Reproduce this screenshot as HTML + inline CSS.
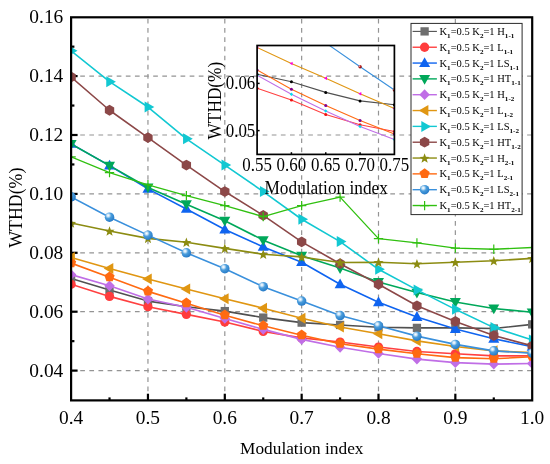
<!DOCTYPE html>
<html><head><meta charset="utf-8"><title>WTHD vs Modulation index</title>
<style>
html,body{margin:0;padding:0;background:#fff}
svg{display:block}
text{font-family:"Liberation Serif","DejaVu Serif",serif;fill:#000}
</style></head><body>
<svg width="550" height="464" viewBox="0 0 550 464">
<defs>
<radialGradient id="sph" cx="0.36" cy="0.32" r="0.72"><stop offset="0" stop-color="#ffffff"/><stop offset="0.18" stop-color="#cfe6f8"/><stop offset="0.45" stop-color="#4a9ddc"/><stop offset="1" stop-color="#2478c6"/></radialGradient>
<radialGradient id="sphr" cx="0.36" cy="0.30" r="0.75"><stop offset="0" stop-color="#ffd0d0"/><stop offset="0.4" stop-color="#c02020"/><stop offset="1" stop-color="#700000"/></radialGradient>
<clipPath id="cm"><rect x="71.10" y="17.30" width="461.10" height="383.10"/></clipPath>
<clipPath id="ci"><rect x="257.1" y="45.5" width="137" height="108.9"/></clipPath>
</defs>
<rect width="550" height="464" fill="#fff"/>
<g stroke="#949494" stroke-width="1.2" fill="none">
<path stroke-dasharray="4.7 4.42" d="M71.10 370.60H532.20"/>
<path stroke-dasharray="4.7 4.42" d="M71.10 311.70H532.20"/>
<path stroke-dasharray="4.7 4.42" d="M71.10 252.80H532.20"/>
<path stroke-dasharray="4.7 4.42" d="M71.10 193.90H532.20"/>
<path stroke-dasharray="4.7 4.42" d="M71.10 135.00H532.20"/>
<path stroke-dasharray="4.7 4.42" d="M71.10 76.10H532.20"/>
<path stroke-dasharray="4.7 4.49" d="M147.95 400.40V17.30"/>
<path stroke-dasharray="4.7 4.49" d="M224.80 400.40V17.30"/>
<path stroke-dasharray="4.7 4.49" d="M301.65 400.40V17.30"/>
<path stroke-dasharray="4.7 4.49" d="M378.50 400.40V17.30"/>
<path stroke-dasharray="4.7 4.49" d="M455.35 400.40V17.30"/>
</g>
<g stroke="#000" stroke-width="2.2">
<path d="M71.10 370.60h6.50"/>
<path d="M71.10 341.15h3.30"/>
<path d="M71.10 311.70h6.50"/>
<path d="M71.10 282.25h3.30"/>
<path d="M71.10 252.80h6.50"/>
<path d="M71.10 223.35h3.30"/>
<path d="M71.10 193.90h6.50"/>
<path d="M71.10 164.45h3.30"/>
<path d="M71.10 135.00h6.50"/>
<path d="M71.10 105.55h3.30"/>
<path d="M71.10 76.10h6.50"/>
<path d="M71.10 46.65h3.30"/>
<path d="M109.52 400.40v-3.00"/>
<path d="M147.95 400.40v-6.70"/>
<path d="M186.38 400.40v-3.00"/>
<path d="M224.80 400.40v-6.70"/>
<path d="M263.23 400.40v-3.00"/>
<path d="M301.65 400.40v-6.70"/>
<path d="M340.08 400.40v-3.00"/>
<path d="M378.50 400.40v-6.70"/>
<path d="M416.93 400.40v-3.00"/>
<path d="M455.35 400.40v-6.70"/>
<path d="M493.78 400.40v-3.00"/>
</g>
<g clip-path="url(#cm)">
<polyline points="71.10,278.42 109.52,289.91 147.95,301.10 186.38,306.69 224.80,311.11 263.23,317.59 301.65,322.60 340.08,324.95 378.50,327.31 416.93,327.90 455.35,327.90 493.78,328.49 532.20,324.36" fill="none" stroke="#505050" stroke-width="1.6" stroke-linejoin="round"/>
<rect x="66.95" y="274.27" width="8.30" height="8.30" fill="#6e6e6e"/>
<rect x="105.37" y="285.76" width="8.30" height="8.30" fill="#6e6e6e"/>
<rect x="143.80" y="296.95" width="8.30" height="8.30" fill="#6e6e6e"/>
<rect x="182.23" y="302.54" width="8.30" height="8.30" fill="#6e6e6e"/>
<rect x="220.65" y="306.96" width="8.30" height="8.30" fill="#6e6e6e"/>
<rect x="259.08" y="313.44" width="8.30" height="8.30" fill="#6e6e6e"/>
<rect x="297.50" y="318.45" width="8.30" height="8.30" fill="#6e6e6e"/>
<rect x="335.93" y="320.80" width="8.30" height="8.30" fill="#6e6e6e"/>
<rect x="374.35" y="323.16" width="8.30" height="8.30" fill="#6e6e6e"/>
<rect x="412.78" y="323.75" width="8.30" height="8.30" fill="#6e6e6e"/>
<rect x="451.20" y="323.75" width="8.30" height="8.30" fill="#6e6e6e"/>
<rect x="489.63" y="324.34" width="8.30" height="8.30" fill="#6e6e6e"/>
<rect x="528.05" y="320.21" width="8.30" height="8.30" fill="#6e6e6e"/>
<polyline points="71.10,284.31 109.52,296.39 147.95,306.69 186.38,314.35 224.80,322.01 263.23,331.43 301.65,337.91 340.08,342.03 378.50,347.04 416.93,351.46 455.35,353.81 493.78,355.88 532.20,355.88" fill="none" stroke="#ff4040" stroke-width="1.6" stroke-linejoin="round"/>
<circle cx="71.10" cy="284.31" r="4.65" fill="#ff3c3c"/>
<circle cx="109.52" cy="296.39" r="4.65" fill="#ff3c3c"/>
<circle cx="147.95" cy="306.69" r="4.65" fill="#ff3c3c"/>
<circle cx="186.38" cy="314.35" r="4.65" fill="#ff3c3c"/>
<circle cx="224.80" cy="322.01" r="4.65" fill="#ff3c3c"/>
<circle cx="263.23" cy="331.43" r="4.65" fill="#ff3c3c"/>
<circle cx="301.65" cy="337.91" r="4.65" fill="#ff3c3c"/>
<circle cx="340.08" cy="342.03" r="4.65" fill="#ff3c3c"/>
<circle cx="378.50" cy="347.04" r="4.65" fill="#ff3c3c"/>
<circle cx="416.93" cy="351.46" r="4.65" fill="#ff3c3c"/>
<circle cx="455.35" cy="353.81" r="4.65" fill="#ff3c3c"/>
<circle cx="493.78" cy="355.88" r="4.65" fill="#ff3c3c"/>
<circle cx="532.20" cy="355.88" r="4.65" fill="#ff3c3c"/>
<polyline points="71.10,143.83 109.52,165.63 147.95,188.89 186.38,208.92 224.80,229.53 263.23,246.91 301.65,262.22 340.08,284.31 378.50,302.28 416.93,317.00 455.35,329.08 493.78,338.79 532.20,346.75" fill="none" stroke="#0f64f0" stroke-width="1.6" stroke-linejoin="round"/>
<polygon points="71.10,137.93 76.60,147.73 65.60,147.73" fill="#0f64f0"/>
<polygon points="109.52,159.73 115.02,169.53 104.02,169.53" fill="#0f64f0"/>
<polygon points="147.95,182.99 153.45,192.79 142.45,192.79" fill="#0f64f0"/>
<polygon points="186.38,203.02 191.88,212.82 180.88,212.82" fill="#0f64f0"/>
<polygon points="224.80,223.63 230.30,233.43 219.30,233.43" fill="#0f64f0"/>
<polygon points="263.23,241.01 268.73,250.81 257.73,250.81" fill="#0f64f0"/>
<polygon points="301.65,256.32 307.15,266.12 296.15,266.12" fill="#0f64f0"/>
<polygon points="340.08,278.41 345.58,288.21 334.58,288.21" fill="#0f64f0"/>
<polygon points="378.50,296.38 384.00,306.18 373.00,306.18" fill="#0f64f0"/>
<polygon points="416.93,311.10 422.43,320.90 411.43,320.90" fill="#0f64f0"/>
<polygon points="455.35,323.18 460.85,332.98 449.85,332.98" fill="#0f64f0"/>
<polygon points="493.78,332.89 499.28,342.69 488.28,342.69" fill="#0f64f0"/>
<polygon points="532.20,340.85 537.70,350.65 526.70,350.65" fill="#0f64f0"/>
<polyline points="71.10,143.83 109.52,165.63 147.95,187.42 186.38,204.21 224.80,220.70 263.23,240.14 301.65,255.75 340.08,268.11 378.50,281.96 416.93,292.56 455.35,301.98 493.78,308.46 532.20,312.29" fill="none" stroke="#00a85a" stroke-width="1.6" stroke-linejoin="round"/>
<polygon points="71.10,149.73 76.60,139.93 65.60,139.93" fill="#00a85a"/>
<polygon points="109.52,171.53 115.02,161.73 104.02,161.73" fill="#00a85a"/>
<polygon points="147.95,193.32 153.45,183.52 142.45,183.52" fill="#00a85a"/>
<polygon points="186.38,210.11 191.88,200.31 180.88,200.31" fill="#00a85a"/>
<polygon points="224.80,226.60 230.30,216.80 219.30,216.80" fill="#00a85a"/>
<polygon points="263.23,246.04 268.73,236.24 257.73,236.24" fill="#00a85a"/>
<polygon points="301.65,261.64 307.15,251.84 296.15,251.84" fill="#00a85a"/>
<polygon points="340.08,274.01 345.58,264.21 334.58,264.21" fill="#00a85a"/>
<polygon points="378.50,287.86 384.00,278.06 373.00,278.06" fill="#00a85a"/>
<polygon points="416.93,298.46 422.43,288.66 411.43,288.66" fill="#00a85a"/>
<polygon points="455.35,307.88 460.85,298.08 449.85,298.08" fill="#00a85a"/>
<polygon points="493.78,314.36 499.28,304.56 488.28,304.56" fill="#00a85a"/>
<polygon points="532.20,318.19 537.70,308.39 526.70,308.39" fill="#00a85a"/>
<polyline points="71.10,274.59 109.52,285.78 147.95,299.04 186.38,307.28 224.80,318.47 263.23,329.37 301.65,339.38 340.08,347.33 378.50,353.52 416.93,359.11 455.35,362.65 493.78,364.12 532.20,363.53" fill="none" stroke="#c06ee6" stroke-width="1.6" stroke-linejoin="round"/>
<polygon points="71.10,269.24 76.34,274.59 71.10,279.94 65.86,274.59" fill="#c06ee6"/>
<polygon points="109.52,280.43 114.77,285.78 109.52,291.13 104.28,285.78" fill="#c06ee6"/>
<polygon points="147.95,293.69 153.19,299.04 147.95,304.39 142.71,299.04" fill="#c06ee6"/>
<polygon points="186.38,301.93 191.62,307.28 186.38,312.63 181.13,307.28" fill="#c06ee6"/>
<polygon points="224.80,313.12 230.04,318.47 224.80,323.82 219.56,318.47" fill="#c06ee6"/>
<polygon points="263.23,324.02 268.47,329.37 263.23,334.72 257.98,329.37" fill="#c06ee6"/>
<polygon points="301.65,334.03 306.89,339.38 301.65,344.73 296.41,339.38" fill="#c06ee6"/>
<polygon points="340.08,341.98 345.32,347.33 340.08,352.68 334.83,347.33" fill="#c06ee6"/>
<polygon points="378.50,348.17 383.74,353.52 378.50,358.87 373.26,353.52" fill="#c06ee6"/>
<polygon points="416.93,353.76 422.17,359.11 416.93,364.46 411.68,359.11" fill="#c06ee6"/>
<polygon points="455.35,357.30 460.59,362.65 455.35,368.00 450.11,362.65" fill="#c06ee6"/>
<polygon points="493.78,358.77 499.02,364.12 493.78,369.47 488.53,364.12" fill="#c06ee6"/>
<polygon points="532.20,358.18 537.44,363.53 532.20,368.88 526.96,363.53" fill="#c06ee6"/>
<polyline points="71.10,257.51 109.52,268.41 147.95,279.01 186.38,289.02 224.80,298.74 263.23,308.17 301.65,318.18 340.08,327.01 378.50,333.79 416.93,340.86 455.35,346.45 493.78,350.87 532.20,352.64" fill="none" stroke="#e09612" stroke-width="1.6" stroke-linejoin="round"/>
<polygon points="65.30,257.51 74.90,252.01 74.90,263.01" fill="#e09612"/>
<polygon points="103.72,268.41 113.32,262.91 113.32,273.91" fill="#e09612"/>
<polygon points="142.15,279.01 151.75,273.51 151.75,284.51" fill="#e09612"/>
<polygon points="180.58,289.02 190.18,283.52 190.18,294.52" fill="#e09612"/>
<polygon points="219.00,298.74 228.60,293.24 228.60,304.24" fill="#e09612"/>
<polygon points="257.43,308.17 267.03,302.67 267.03,313.67" fill="#e09612"/>
<polygon points="295.85,318.18 305.45,312.68 305.45,323.68" fill="#e09612"/>
<polygon points="334.28,327.01 343.88,321.51 343.88,332.51" fill="#e09612"/>
<polygon points="372.70,333.79 382.30,328.29 382.30,339.29" fill="#e09612"/>
<polygon points="411.13,340.86 420.73,335.36 420.73,346.36" fill="#e09612"/>
<polygon points="449.55,346.45 459.15,340.95 459.15,351.95" fill="#e09612"/>
<polygon points="487.98,350.87 497.58,345.37 497.58,356.37" fill="#e09612"/>
<polygon points="526.40,352.64 536.00,347.14 536.00,358.14" fill="#e09612"/>
<polyline points="71.10,50.77 109.52,81.70 147.95,107.02 186.38,138.83 224.80,165.04 263.23,191.54 301.65,219.23 340.08,241.61 378.50,269.29 416.93,289.91 455.35,309.34 493.78,327.60 532.20,339.97" fill="none" stroke="#12c8d2" stroke-width="1.6" stroke-linejoin="round"/>
<polygon points="77.50,50.77 67.80,45.27 67.80,56.27" fill="#12c8d2"/>
<polygon points="115.92,81.70 106.22,76.20 106.22,87.20" fill="#12c8d2"/>
<polygon points="154.35,107.02 144.65,101.52 144.65,112.52" fill="#12c8d2"/>
<polygon points="192.78,138.83 183.08,133.33 183.08,144.33" fill="#12c8d2"/>
<polygon points="231.20,165.04 221.50,159.54 221.50,170.54" fill="#12c8d2"/>
<polygon points="269.62,191.54 259.93,186.04 259.93,197.04" fill="#12c8d2"/>
<polygon points="308.05,219.23 298.35,213.73 298.35,224.73" fill="#12c8d2"/>
<polygon points="346.48,241.61 336.78,236.11 336.78,247.11" fill="#12c8d2"/>
<polygon points="384.90,269.29 375.20,263.79 375.20,274.79" fill="#12c8d2"/>
<polygon points="423.33,289.91 413.63,284.41 413.63,295.41" fill="#12c8d2"/>
<polygon points="461.75,309.34 452.05,303.84 452.05,314.84" fill="#12c8d2"/>
<polygon points="500.18,327.60 490.48,322.10 490.48,333.10" fill="#12c8d2"/>
<polygon points="538.60,339.97 528.90,334.47 528.90,345.47" fill="#12c8d2"/>
<polyline points="71.10,76.98 109.52,110.26 147.95,137.65 186.38,165.04 224.80,191.54 263.23,215.40 301.65,241.90 340.08,263.70 378.50,284.31 416.93,305.81 455.35,321.42 493.78,335.55 532.20,345.86" fill="none" stroke="#8c4848" stroke-width="1.6" stroke-linejoin="round"/>
<polygon points="71.10,71.58 75.78,74.28 75.78,79.68 71.10,82.38 66.42,79.68 66.42,74.28" fill="#8c4848"/>
<polygon points="109.52,104.86 114.20,107.56 114.20,112.96 109.52,115.66 104.85,112.96 104.85,107.56" fill="#8c4848"/>
<polygon points="147.95,132.25 152.63,134.95 152.63,140.35 147.95,143.05 143.27,140.35 143.27,134.95" fill="#8c4848"/>
<polygon points="186.38,159.64 191.05,162.34 191.05,167.74 186.38,170.44 181.70,167.74 181.70,162.34" fill="#8c4848"/>
<polygon points="224.80,186.14 229.48,188.84 229.48,194.24 224.80,196.94 220.12,194.24 220.12,188.84" fill="#8c4848"/>
<polygon points="263.23,210.00 267.90,212.70 267.90,218.10 263.23,220.80 258.55,218.10 258.55,212.70" fill="#8c4848"/>
<polygon points="301.65,236.50 306.33,239.20 306.33,244.60 301.65,247.30 296.97,244.60 296.97,239.20" fill="#8c4848"/>
<polygon points="340.08,258.30 344.75,261.00 344.75,266.40 340.08,269.10 335.40,266.40 335.40,261.00" fill="#8c4848"/>
<polygon points="378.50,278.91 383.18,281.61 383.18,287.01 378.50,289.71 373.82,287.01 373.82,281.61" fill="#8c4848"/>
<polygon points="416.93,300.41 421.60,303.11 421.60,308.51 416.93,311.21 412.25,308.51 412.25,303.11" fill="#8c4848"/>
<polygon points="455.35,316.02 460.03,318.72 460.03,324.12 455.35,326.82 450.67,324.12 450.67,318.72" fill="#8c4848"/>
<polygon points="493.78,330.15 498.45,332.85 498.45,338.25 493.78,340.95 489.10,338.25 489.10,332.85" fill="#8c4848"/>
<polygon points="532.20,340.46 536.88,343.16 536.88,348.56 532.20,351.26 527.52,348.56 527.52,343.16" fill="#8c4848"/>
<polyline points="71.10,223.06 109.52,231.01 147.95,238.37 186.38,242.20 224.80,248.38 263.23,254.27 301.65,256.92 340.08,262.52 378.50,262.22 416.93,263.70 455.35,262.22 493.78,260.75 532.20,258.40" fill="none" stroke="#8c8c12" stroke-width="1.6" stroke-linejoin="round"/>
<polygon points="71.10,218.26 72.41,221.75 76.14,221.92 73.22,224.24 74.22,227.84 71.10,225.78 67.98,227.84 68.98,224.24 66.06,221.92 69.79,221.75" fill="#8c8c12"/>
<polygon points="109.52,226.21 110.83,229.71 114.57,229.87 111.64,232.19 112.64,235.79 109.52,233.73 106.41,235.79 107.41,232.19 104.48,229.87 108.22,229.71" fill="#8c8c12"/>
<polygon points="147.95,233.57 149.26,237.07 152.99,237.23 150.07,239.56 151.07,243.16 147.95,241.10 144.83,243.16 145.83,239.56 142.91,237.23 146.64,237.07" fill="#8c8c12"/>
<polygon points="186.38,237.40 187.68,240.90 191.42,241.06 188.49,243.39 189.49,246.99 186.38,244.92 183.26,246.99 184.26,243.39 181.33,241.06 185.07,240.90" fill="#8c8c12"/>
<polygon points="224.80,243.58 226.11,247.08 229.84,247.24 226.92,249.57 227.92,253.17 224.80,251.11 221.68,253.17 222.68,249.57 219.76,247.24 223.49,247.08" fill="#8c8c12"/>
<polygon points="263.23,249.47 264.53,252.97 268.27,253.13 265.34,255.46 266.34,259.06 263.23,257.00 260.11,259.06 261.11,255.46 258.18,253.13 261.92,252.97" fill="#8c8c12"/>
<polygon points="301.65,252.12 302.96,255.62 306.69,255.79 303.77,258.11 304.77,261.71 301.65,259.65 298.53,261.71 299.53,258.11 296.61,255.79 300.34,255.62" fill="#8c8c12"/>
<polygon points="340.08,257.72 341.38,261.22 345.12,261.38 342.19,263.71 343.19,267.31 340.08,265.24 336.96,267.31 337.96,263.71 335.03,261.38 338.77,261.22" fill="#8c8c12"/>
<polygon points="378.50,257.42 379.81,260.92 383.54,261.09 380.62,263.41 381.62,267.01 378.50,264.95 375.38,267.01 376.38,263.41 373.46,261.09 377.19,260.92" fill="#8c8c12"/>
<polygon points="416.93,258.90 418.23,262.40 421.97,262.56 419.04,264.88 420.04,268.48 416.93,266.42 413.81,268.48 414.81,264.88 411.88,262.56 415.62,262.40" fill="#8c8c12"/>
<polygon points="455.35,257.42 456.66,260.92 460.39,261.09 457.47,263.41 458.47,267.01 455.35,264.95 452.23,267.01 453.23,263.41 450.31,261.09 454.04,260.92" fill="#8c8c12"/>
<polygon points="493.78,255.95 495.08,259.45 498.82,259.61 495.89,261.94 496.89,265.54 493.78,263.48 490.66,265.54 491.66,261.94 488.73,259.61 492.47,259.45" fill="#8c8c12"/>
<polygon points="532.20,253.60 533.51,257.09 537.24,257.26 534.32,259.58 535.32,263.18 532.20,261.12 529.08,263.18 530.08,259.58 527.16,257.26 530.89,257.09" fill="#8c8c12"/>
<polyline points="71.10,263.11 109.52,277.24 147.95,291.38 186.38,303.16 224.80,315.23 263.23,325.84 301.65,335.26 340.08,343.80 378.50,349.10 416.93,353.81 455.35,357.64 493.78,358.82 532.20,356.76" fill="none" stroke="#ff6a12" stroke-width="1.6" stroke-linejoin="round"/>
<polygon points="71.10,257.46 76.19,261.15 74.24,267.14 67.96,267.14 66.01,261.15" fill="#ff6a12"/>
<polygon points="109.52,271.59 114.61,275.29 112.67,281.27 106.38,281.27 104.44,275.29" fill="#ff6a12"/>
<polygon points="147.95,285.73 153.04,289.43 151.09,295.41 144.81,295.41 142.86,289.43" fill="#ff6a12"/>
<polygon points="186.38,297.51 191.46,301.21 189.52,307.19 183.23,307.19 181.29,301.21" fill="#ff6a12"/>
<polygon points="224.80,309.58 229.89,313.28 227.94,319.26 221.66,319.26 219.71,313.28" fill="#ff6a12"/>
<polygon points="263.23,320.19 268.31,323.88 266.37,329.86 260.08,329.86 258.14,323.88" fill="#ff6a12"/>
<polygon points="301.65,329.61 306.74,333.31 304.79,339.29 298.51,339.29 296.56,333.31" fill="#ff6a12"/>
<polygon points="340.08,338.15 345.16,341.85 343.22,347.83 336.93,347.83 334.99,341.85" fill="#ff6a12"/>
<polygon points="378.50,343.45 383.59,347.15 381.64,353.13 375.36,353.13 373.41,347.15" fill="#ff6a12"/>
<polygon points="416.93,348.16 422.01,351.86 420.07,357.84 413.78,357.84 411.84,351.86" fill="#ff6a12"/>
<polygon points="455.35,351.99 460.44,355.69 458.49,361.67 452.21,361.67 450.26,355.69" fill="#ff6a12"/>
<polygon points="493.78,353.17 498.86,356.87 496.92,362.85 490.63,362.85 488.69,356.87" fill="#ff6a12"/>
<polygon points="532.20,351.11 537.29,354.81 535.34,360.79 529.06,360.79 527.11,354.81" fill="#ff6a12"/>
<polyline points="71.10,196.84 109.52,217.17 147.95,235.13 186.38,252.80 224.80,268.70 263.23,286.67 301.65,301.10 340.08,315.53 378.50,325.84 416.93,336.14 455.35,344.39 493.78,350.87 532.20,353.22" fill="none" stroke="#3a90dc" stroke-width="1.6" stroke-linejoin="round"/>
<circle cx="71.10" cy="196.84" r="4.75" fill="url(#sph)"/>
<circle cx="109.52" cy="217.17" r="4.75" fill="url(#sph)"/>
<circle cx="147.95" cy="235.13" r="4.75" fill="url(#sph)"/>
<circle cx="186.38" cy="252.80" r="4.75" fill="url(#sph)"/>
<circle cx="224.80" cy="268.70" r="4.75" fill="url(#sph)"/>
<circle cx="263.23" cy="286.67" r="4.75" fill="url(#sph)"/>
<circle cx="301.65" cy="301.10" r="4.75" fill="url(#sph)"/>
<circle cx="340.08" cy="315.53" r="4.75" fill="url(#sph)"/>
<circle cx="378.50" cy="325.84" r="4.75" fill="url(#sph)"/>
<circle cx="416.93" cy="336.14" r="4.75" fill="url(#sph)"/>
<circle cx="455.35" cy="344.39" r="4.75" fill="url(#sph)"/>
<circle cx="493.78" cy="350.87" r="4.75" fill="url(#sph)"/>
<circle cx="532.20" cy="353.22" r="4.75" fill="url(#sph)"/>
<polyline points="71.10,156.79 109.52,172.70 147.95,184.77 186.38,195.67 224.80,205.68 263.23,216.58 301.65,205.68 340.08,197.14 378.50,238.66 416.93,242.79 455.35,248.09 493.78,249.27 532.20,247.50" fill="none" stroke="#30c010" stroke-width="1.3" stroke-linejoin="round"/>
<path d="M71.10 152.14V161.44M66.45 156.79H75.75" stroke="#30c010" stroke-width="1.2" fill="none"/>
<path d="M109.52 168.05V177.35M104.87 172.70H114.17" stroke="#30c010" stroke-width="1.2" fill="none"/>
<path d="M147.95 180.12V189.42M143.30 184.77H152.60" stroke="#30c010" stroke-width="1.2" fill="none"/>
<path d="M186.38 191.02V200.32M181.73 195.67H191.03" stroke="#30c010" stroke-width="1.2" fill="none"/>
<path d="M224.80 201.03V210.33M220.15 205.68H229.45" stroke="#30c010" stroke-width="1.2" fill="none"/>
<path d="M263.23 211.93V221.23M258.58 216.58H267.88" stroke="#30c010" stroke-width="1.2" fill="none"/>
<path d="M301.65 201.03V210.33M297.00 205.68H306.30" stroke="#30c010" stroke-width="1.2" fill="none"/>
<path d="M340.08 192.49V201.79M335.43 197.14H344.73" stroke="#30c010" stroke-width="1.2" fill="none"/>
<path d="M378.50 234.01V243.31M373.85 238.66H383.15" stroke="#30c010" stroke-width="1.2" fill="none"/>
<path d="M416.93 238.14V247.44M412.28 242.79H421.58" stroke="#30c010" stroke-width="1.2" fill="none"/>
<path d="M455.35 243.44V252.74M450.70 248.09H460.00" stroke="#30c010" stroke-width="1.2" fill="none"/>
<path d="M493.78 244.62V253.92M489.13 249.27H498.43" stroke="#30c010" stroke-width="1.2" fill="none"/>
<path d="M532.20 242.85V252.15M527.55 247.50H536.85" stroke="#30c010" stroke-width="1.2" fill="none"/>
</g>
<rect x="71.10" y="17.30" width="461.10" height="383.10" fill="none" stroke="#000" stroke-width="2.2"/>
<g font-size="19.4" text-anchor="end">
<text x="63.3" y="376.80">0.04</text>
<text x="63.3" y="317.90">0.06</text>
<text x="63.3" y="259.00">0.08</text>
<text x="63.3" y="200.10">0.10</text>
<text x="63.3" y="141.20">0.12</text>
<text x="63.3" y="82.30">0.14</text>
<text x="63.3" y="23.40">0.16</text>
</g>
<g font-size="19.4" text-anchor="middle">
<text x="71.10" y="424">0.4</text>
<text x="147.95" y="424">0.5</text>
<text x="224.80" y="424">0.6</text>
<text x="301.65" y="424">0.7</text>
<text x="378.50" y="424">0.8</text>
<text x="455.35" y="424">0.9</text>
<text x="532.20" y="424">1.0</text>
</g>
<text x="301.8" y="453.7" font-size="17.3" text-anchor="middle">Modulation index</text>
<text transform="translate(22.2 207.7) rotate(-90)" font-size="17.8" text-anchor="middle">WTHD(%)</text>
<g clip-path="url(#ci)">
<polyline points="257.10,74.30 291.42,81.80 325.75,92.40 360.07,100.90 394.40,104.70" fill="none" stroke="#505050" stroke-width="1.1"/>
<circle cx="257.10" cy="74.30" r="1.5" fill="#000"/>
<circle cx="291.42" cy="81.80" r="1.5" fill="#000"/>
<circle cx="325.75" cy="92.40" r="1.5" fill="#000"/>
<circle cx="360.07" cy="100.90" r="1.5" fill="#000"/>
<circle cx="394.40" cy="104.70" r="1.5" fill="#000"/>
<polyline points="257.10,88.20 291.42,100.00 325.75,114.50 360.07,124.80 394.40,131.50" fill="none" stroke="#ff4040" stroke-width="1.1"/>
<circle cx="257.10" cy="88.20" r="1.5" fill="#f01010"/>
<circle cx="291.42" cy="100.00" r="1.5" fill="#f01010"/>
<circle cx="325.75" cy="114.50" r="1.5" fill="#f01010"/>
<circle cx="360.07" cy="124.80" r="1.5" fill="#f01010"/>
<circle cx="394.40" cy="131.50" r="1.5" fill="#f01010"/>
<polyline points="257.10,75.20 291.42,94.20 325.75,111.00 360.07,126.50 394.40,139.60" fill="none" stroke="#c06ee6" stroke-width="1.1"/>
<polygon points="257.10,73.49 258.78,75.20 257.10,76.91 255.42,75.20" fill="#00e0f0"/>
<polygon points="291.42,92.49 293.10,94.20 291.42,95.91 289.75,94.20" fill="#00e0f0"/>
<polygon points="325.75,109.29 327.43,111.00 325.75,112.71 324.07,111.00" fill="#00e0f0"/>
<polygon points="360.07,124.79 361.75,126.50 360.07,128.21 358.40,126.50" fill="#00e0f0"/>
<polygon points="394.40,137.89 396.08,139.60 394.40,141.31 392.72,139.60" fill="#00e0f0"/>
<polyline points="257.10,47.40 291.42,63.60 325.75,78.30 360.07,93.80 394.40,108.40" fill="none" stroke="#e09612" stroke-width="1.1"/>
<polygon points="255.24,47.40 258.32,45.64 258.32,49.16" fill="#ff00e0"/>
<polygon points="289.57,63.60 292.64,61.84 292.64,65.36" fill="#ff00e0"/>
<polygon points="323.89,78.30 326.97,76.54 326.97,80.06" fill="#ff00e0"/>
<polygon points="358.22,93.80 361.29,92.04 361.29,95.56" fill="#ff00e0"/>
<polygon points="392.54,108.40 395.62,106.64 395.62,110.16" fill="#ff00e0"/>
<polyline points="257.10,70.00 291.42,89.30 325.75,105.50 360.07,120.50 394.40,134.00" fill="none" stroke="#ff6a12" stroke-width="1.1"/>
<circle cx="257.10" cy="70.00" r="1.5" fill="#800090"/>
<circle cx="291.42" cy="89.30" r="1.5" fill="#800090"/>
<circle cx="325.75" cy="105.50" r="1.5" fill="#800090"/>
<circle cx="360.07" cy="120.50" r="1.5" fill="#800090"/>
<circle cx="394.40" cy="134.00" r="1.5" fill="#800090"/>
<polyline points="257.10,20.00 291.42,31.50 325.75,42.90 360.07,66.80 394.40,90.00" fill="none" stroke="#3a90dc" stroke-width="1.1"/>
<circle cx="257.10" cy="20.00" r="1.7" fill="url(#sphr)"/>
<circle cx="291.42" cy="31.50" r="1.7" fill="url(#sphr)"/>
<circle cx="325.75" cy="42.90" r="1.7" fill="url(#sphr)"/>
<circle cx="360.07" cy="66.80" r="1.7" fill="url(#sphr)"/>
<circle cx="394.40" cy="90.00" r="1.7" fill="url(#sphr)"/>
</g>
<rect x="257.10" y="45.50" width="137.30" height="108.90" fill="none" stroke="#000" stroke-width="1.7"/>
<g stroke="#000" stroke-width="1.5">
<path d="M257.10 130.60h2.5"/>
<path d="M257.10 83.40h2.5"/>
<path d="M291.42 154.40v-2.2"/>
<path d="M325.75 154.40v-2.2"/>
<path d="M360.07 154.40v-2.2"/>
</g>
<g font-size="18.8" text-anchor="end">
<text transform="translate(255.3 136.50) scale(0.9 1)">0.05</text>
<text transform="translate(255.3 89.30) scale(0.9 1)">0.06</text>
</g>
<g font-size="18.8" text-anchor="middle">
<text transform="translate(257.10 170.6) scale(0.9 1)">0.55</text>
<text transform="translate(291.42 170.6) scale(0.9 1)">0.60</text>
<text transform="translate(325.75 170.6) scale(0.9 1)">0.65</text>
<text transform="translate(360.07 170.6) scale(0.9 1)">0.70</text>
<text transform="translate(394.40 170.6) scale(0.9 1)">0.75</text>
</g>
<text transform="translate(326.2 194.1) scale(0.925 1)" font-size="18.7" text-anchor="middle">Modulation index</text>
<text transform="translate(221.2 100.6) rotate(-90) scale(0.91 1)" font-size="19" text-anchor="middle">WTHD(%)</text>
<rect x="411.00" y="23.40" width="111.10" height="191.20" fill="#fff" stroke="#2a2a2a" stroke-width="1"/>
<path d="M412.6 31.40H436.9" stroke="#505050" stroke-width="1.1"/>
<rect x="420.45" y="27.25" width="8.30" height="8.30" fill="#6e6e6e"/>
<text x="439.5" y="35.00" font-size="10.5" fill="#222">K<tspan font-size="7.1" font-weight="700" dy="2.9">1</tspan><tspan dy="-2.9">=0.5 K</tspan><tspan font-size="7.1" font-weight="700" dy="2.9">2</tspan><tspan dy="-2.9">=1 H</tspan><tspan font-size="7.1" font-weight="700" dy="2.9">1-1</tspan></text>
<path d="M412.6 47.23H436.9" stroke="#ff4040" stroke-width="1.4"/>
<circle cx="424.60" cy="47.23" r="4.65" fill="#ff3c3c"/>
<text x="439.5" y="50.83" font-size="10.5" fill="#222">K<tspan font-size="7.1" font-weight="700" dy="2.9">1</tspan><tspan dy="-2.9">=0.5 K</tspan><tspan font-size="7.1" font-weight="700" dy="2.9">2</tspan><tspan dy="-2.9">=1 L</tspan><tspan font-size="7.1" font-weight="700" dy="2.9">1-1</tspan></text>
<path d="M412.6 63.06H436.9" stroke="#0f64f0" stroke-width="1.4"/>
<polygon points="424.60,57.16 430.10,66.96 419.10,66.96" fill="#0f64f0"/>
<text x="439.5" y="66.66" font-size="10.5" fill="#222">K<tspan font-size="7.1" font-weight="700" dy="2.9">1</tspan><tspan dy="-2.9">=0.5 K</tspan><tspan font-size="7.1" font-weight="700" dy="2.9">2</tspan><tspan dy="-2.9">=1 LS</tspan><tspan font-size="7.1" font-weight="700" dy="2.9">1-1</tspan></text>
<path d="M412.6 78.89H436.9" stroke="#00a85a" stroke-width="1.4"/>
<polygon points="424.60,84.79 430.10,74.99 419.10,74.99" fill="#00a85a"/>
<text x="439.5" y="82.49" font-size="10.5" fill="#222">K<tspan font-size="7.1" font-weight="700" dy="2.9">1</tspan><tspan dy="-2.9">=0.5 K</tspan><tspan font-size="7.1" font-weight="700" dy="2.9">2</tspan><tspan dy="-2.9">=1 HT</tspan><tspan font-size="7.1" font-weight="700" dy="2.9">1-1</tspan></text>
<path d="M412.6 94.72H436.9" stroke="#c06ee6" stroke-width="1.4"/>
<polygon points="424.60,89.37 429.84,94.72 424.60,100.07 419.36,94.72" fill="#c06ee6"/>
<text x="439.5" y="98.32" font-size="10.5" fill="#222">K<tspan font-size="7.1" font-weight="700" dy="2.9">1</tspan><tspan dy="-2.9">=0.5 K</tspan><tspan font-size="7.1" font-weight="700" dy="2.9">2</tspan><tspan dy="-2.9">=1 H</tspan><tspan font-size="7.1" font-weight="700" dy="2.9">1-2</tspan></text>
<path d="M412.6 110.55H436.9" stroke="#e09612" stroke-width="1.4"/>
<polygon points="418.80,110.55 428.40,105.05 428.40,116.05" fill="#e09612"/>
<text x="439.5" y="114.15" font-size="10.5" fill="#222">K<tspan font-size="7.1" font-weight="700" dy="2.9">1</tspan><tspan dy="-2.9">=0.5 K</tspan><tspan font-size="7.1" font-weight="700" dy="2.9">2</tspan><tspan dy="-2.9">=1 L</tspan><tspan font-size="7.1" font-weight="700" dy="2.9">1-2</tspan></text>
<path d="M412.6 126.38H436.9" stroke="#12c8d2" stroke-width="1.4"/>
<polygon points="431.00,126.38 421.30,120.88 421.30,131.88" fill="#12c8d2"/>
<text x="439.5" y="129.98" font-size="10.5" fill="#222">K<tspan font-size="7.1" font-weight="700" dy="2.9">1</tspan><tspan dy="-2.9">=0.5 K</tspan><tspan font-size="7.1" font-weight="700" dy="2.9">2</tspan><tspan dy="-2.9">=1 LS</tspan><tspan font-size="7.1" font-weight="700" dy="2.9">1-2</tspan></text>
<path d="M412.6 142.21H436.9" stroke="#8c4848" stroke-width="1.4"/>
<polygon points="424.60,136.81 429.28,139.51 429.28,144.91 424.60,147.61 419.92,144.91 419.92,139.51" fill="#8c4848"/>
<text x="439.5" y="145.81" font-size="10.5" fill="#222">K<tspan font-size="7.1" font-weight="700" dy="2.9">1</tspan><tspan dy="-2.9">=0.5 K</tspan><tspan font-size="7.1" font-weight="700" dy="2.9">2</tspan><tspan dy="-2.9">=1 HT</tspan><tspan font-size="7.1" font-weight="700" dy="2.9">1-2</tspan></text>
<path d="M412.6 158.04H436.9" stroke="#8c8c12" stroke-width="1.4"/>
<polygon points="424.60,153.24 425.91,156.74 429.64,156.90 426.72,159.23 427.72,162.83 424.60,160.77 421.48,162.83 422.48,159.23 419.56,156.90 423.29,156.74" fill="#8c8c12"/>
<text x="439.5" y="161.64" font-size="10.5" fill="#222">K<tspan font-size="7.1" font-weight="700" dy="2.9">1</tspan><tspan dy="-2.9">=0.5 K</tspan><tspan font-size="7.1" font-weight="700" dy="2.9">2</tspan><tspan dy="-2.9">=1 H</tspan><tspan font-size="7.1" font-weight="700" dy="2.9">2-1</tspan></text>
<path d="M412.6 173.87H436.9" stroke="#ff6a12" stroke-width="1.4"/>
<polygon points="424.60,168.22 429.69,171.92 427.74,177.90 421.46,177.90 419.51,171.92" fill="#ff6a12"/>
<text x="439.5" y="177.47" font-size="10.5" fill="#222">K<tspan font-size="7.1" font-weight="700" dy="2.9">1</tspan><tspan dy="-2.9">=0.5 K</tspan><tspan font-size="7.1" font-weight="700" dy="2.9">2</tspan><tspan dy="-2.9">=1 L</tspan><tspan font-size="7.1" font-weight="700" dy="2.9">2-1</tspan></text>
<path d="M412.6 189.70H436.9" stroke="#3a90dc" stroke-width="1.4"/>
<circle cx="424.60" cy="189.70" r="4.75" fill="url(#sph)"/>
<text x="439.5" y="193.30" font-size="10.5" fill="#222">K<tspan font-size="7.1" font-weight="700" dy="2.9">1</tspan><tspan dy="-2.9">=0.5 K</tspan><tspan font-size="7.1" font-weight="700" dy="2.9">2</tspan><tspan dy="-2.9">=1 LS</tspan><tspan font-size="7.1" font-weight="700" dy="2.9">2-1</tspan></text>
<path d="M412.6 205.53H436.9" stroke="#30c010" stroke-width="1.4"/>
<path d="M424.60 200.88V210.18M419.95 205.53H429.25" stroke="#30c010" stroke-width="1.2" fill="none"/>
<text x="439.5" y="209.13" font-size="10.5" fill="#222">K<tspan font-size="7.1" font-weight="700" dy="2.9">1</tspan><tspan dy="-2.9">=0.5 K</tspan><tspan font-size="7.1" font-weight="700" dy="2.9">2</tspan><tspan dy="-2.9">=1 HT</tspan><tspan font-size="7.1" font-weight="700" dy="2.9">2-1</tspan></text>
</svg></body></html>
